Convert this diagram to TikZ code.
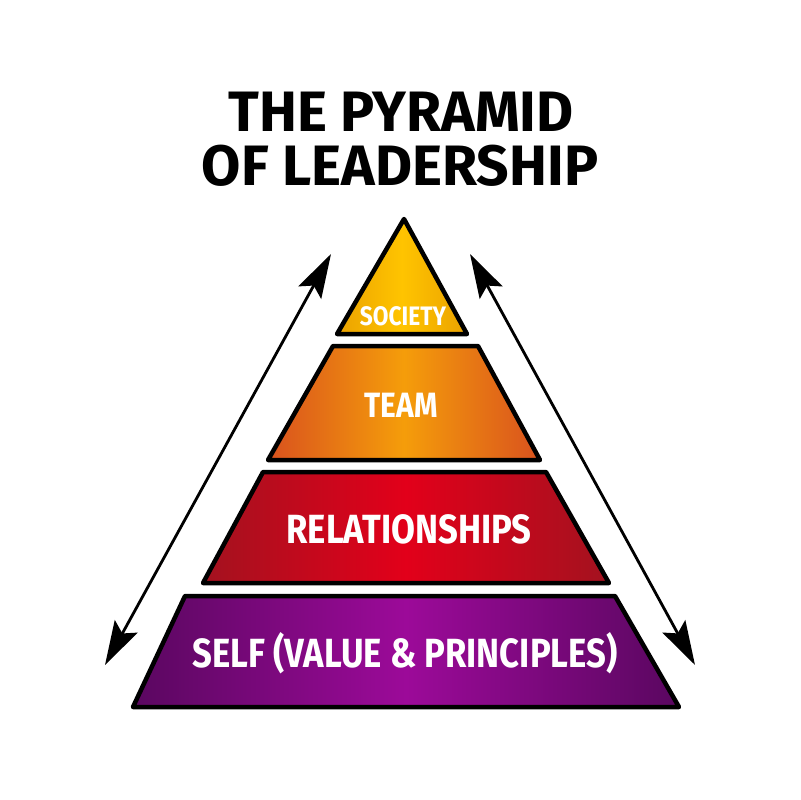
\documentclass[tikz,border=0pt]{standalone}
\usepackage{fontspec}
\setmainfont{Fira Sans}
\newfontfamily\handfont{Fira Sans}[FakeStretch=0.85]
\usetikzlibrary{arrows.meta}

\definecolor{socEdge}{HTML}{EBA200}
\definecolor{socMid}{HTML}{FFC400}
\definecolor{teamEdge}{HTML}{D9521E}
\definecolor{teamMid}{HTML}{F59D0A}
\definecolor{relEdge}{HTML}{A3121F}
\definecolor{relMid}{HTML}{E2001A}
\definecolor{selfEdge}{HTML}{5A0760}
\definecolor{selfMid}{HTML}{9C0A99}

\tikzset{
  layer/.style={draw=black, line width=3.2pt, line join=round},
  lbl/.style={text=white, anchor=base},
  ttl/.style={anchor=base, font=\bfseries\fontsize{40.5}{44}\selectfont}
}

\begin{document}
\begin{tikzpicture}[x=0.025cm, y=-0.025cm, >={Stealth[length=11mm,width=6.5mm,inset=2mm]}]
\useasboundingbox (0,0) rectangle (800,800);

\node[ttl] (t1) at (401,132) {THE PYRAMID};
\node[ttl] (t2) at (400,186) {OF LEADERSHIP};

% pyramid layers, top to bottom
\draw[layer, left color=socEdge, right color=socEdge, middle color=socMid]
  (404,219) -- (467,334) -- (337,334) -- cycle;
\draw[layer, left color=teamEdge, right color=teamEdge, middle color=teamMid]
  (333,346) -- (478,346) -- (540,460) -- (268,460) -- cycle;
\draw[layer, left color=relEdge, right color=relEdge, middle color=relMid]
  (263,472) -- (546,472) -- (609,583) -- (203,583) -- cycle;
\draw[layer, left color=selfEdge, right color=selfEdge, middle color=selfMid]
  (185,596) -- (615,596) -- (679,707) -- (133,707) -- cycle;

\node[lbl, font=\handfont\bfseries\fontsize{19}{22}\selectfont] (society) at (403,325) {SOCIETY};
\node[lbl, font=\handfont\bfseries\fontsize{25}{28}\selectfont] (team) at (401,417) {TEAM};
\node[lbl, font=\handfont\bfseries\fontsize{29}{32}\selectfont] (rel) at (409,543) {RELATIONSHIPS};
\node[lbl, font=\handfont\bfseries\fontsize{29}{32}\selectfont] (self) at (405,667) {SELF (VALUE \& PRINCIPLES)};

% side arrows
\coordinate (lbot) at (105,665);
\coordinate (ltop) at (331,254);
\coordinate (rtop) at (470,254);
\coordinate (rbot) at (695,665);
\draw[<->, line width=2pt] (lbot) -- (ltop);
\draw[<->, line width=2pt] (rtop) -- (rbot);
\end{tikzpicture}
\end{document}
